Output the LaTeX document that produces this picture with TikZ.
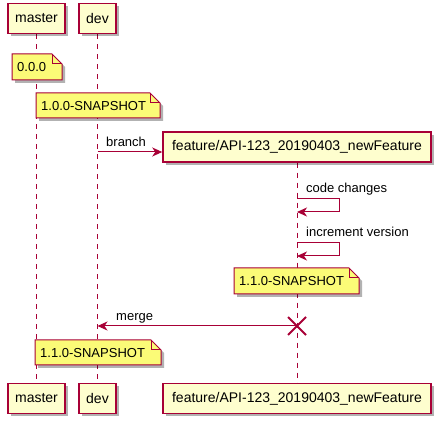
\documentclass[tikz,border=0pt]{standalone}
\usepackage{fontspec}
\setmainfont{Liberation Sans}
\usetikzlibrary{positioning,arrows.meta,shadows,backgrounds}
\definecolor{umlborder}{HTML}{A80036}
\definecolor{umlbox}{HTML}{FEFECE}
\definecolor{umlnote}{HTML}{FBFB77}
\tikzset{
  umlshadow/.style={drop shadow={shadow xshift=3pt, shadow yshift=-3pt, fill=black, opacity=.3}},
  participant/.style={draw=umlborder, fill=umlbox, line width=1.5pt, minimum height=30pt,
    inner sep=0pt, font=\fontsize{14}{16}\selectfont, umlshadow},
  lifeline/.style={draw=umlborder, line width=1pt, dash pattern=on 5pt off 5pt},
  msg/.style={draw=umlborder, line width=1pt, -{Stealth[length=10pt, width=9pt, inset=3pt]}},
  msglabel/.style={anchor=base west, inner sep=0pt, font=\fontsize{13}{15}\selectfont},
  notebox/.style={draw=umlborder, fill=umlnote, line width=1pt, umlshadow},
  notetext/.style={anchor=base west, inner sep=0pt, font=\fontsize{13}{15}\selectfont},
}
% note with folded corner: name, x1, y1, x2, y2, text
\newcommand\umlnote[6]{%
  \draw[notebox] (#2,#3) -- ({#4-10},#3) -- (#4,{#3+10}) -- (#4,#5) -- (#2,#5) -- cycle;
  \draw[umlborder, line width=1pt] ({#4-10},#3) -- ({#4-10},{#3+10}) -- (#4,{#3+10});
  \node[notetext] (#1) at ({#2+5},{(#3+#5)/2+4.8}) {#6};
}

\begin{document}
\begin{tikzpicture}[x=1pt,y=-1pt]
    \useasboundingbox (0,0) rectangle (440,425);

    % Participants, top row
    \node[participant, minimum width=57pt] (master) at (36.5,18.5) {master};
    \node[participant, minimum width=37pt] (dev) at (97.5,18.5) {dev};

    % Participants, bottom row
    \node[participant, minimum width=57pt] (masterB) at (36.5,398.5) {master};
    \node[participant, minimum width=37pt] (devB) at (97.5,398.5) {dev};
    \node[participant, minimum width=268pt] (featB) at (297,398.5) {feature/API-123\_20190403\_newFeature};

    % Created participant
    \node[participant, minimum width=268pt] (feat) at (297,147) {feature/API-123\_20190403\_newFeature};

    % Lifelines
    \begin{scope}[on background layer]
      \draw[lifeline] (master.south) -- (masterB.north);
      \draw[lifeline] (dev.south) -- (devB.north);
      \draw[lifeline] (feat.south) -- (featB.north);
    \end{scope}

    % Version notes
    \umlnote{v000}{12}{54}{62}{80}{0.0.0}
    \umlnote{v100}{36}{93}{160}{118}{1.0.0-SNAPSHOT}

    % Branch off dev
    \coordinate (brS) at (dev.south |- 0,152);
    \coordinate (brE) at (feat.west |- 0,152);
    \draw[msg] (brS) -- (brE);
    \node[msglabel] (brL) at (106,147) {branch};

    % Self messages on the feature branch
    \coordinate (cc1) at (feat.south |- 0,199);
    \coordinate (cc2) at (feat.south |- 0,212);
    \draw[msg] (cc1) -- ++(42,0) |- (cc2);
    \node[msglabel] (ccL) at (306,193) {code changes};

    \coordinate (iv1) at (feat.south |- 0,243);
    \coordinate (iv2) at (feat.south |- 0,256);
    \draw[msg] (iv1) -- ++(42,0) |- (iv2);
    \node[msglabel] (ivL) at (306,237) {increment version};

    \umlnote{v110f}{234}{268}{359}{294}{1.1.0-SNAPSHOT}

    % Merge back into dev and destroy the branch
    \coordinate (mgS) at (feat.south |- 0,326);
    \coordinate (mgE) at (dev.south |- 0,326);
    \draw[msg] (mgS) -- (mgE);
    \node[msglabel] (mgL) at (116,321) {merge};
    \draw[umlborder, line width=2pt] ([shift={(-9,-9)}]mgS) -- ([shift={(9,9)}]mgS)
      ([shift={(-9,9)}]mgS) -- ([shift={(9,-9)}]mgS);

    \umlnote{v110}{35}{340}{161}{365}{1.1.0-SNAPSHOT}
  \end{tikzpicture}
\end{document}
